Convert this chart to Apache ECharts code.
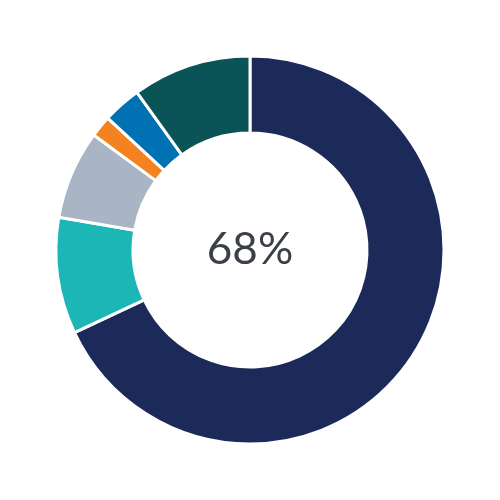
<!DOCTYPE html>
<html><head><meta charset="utf-8">
<script src="https://cdn.jsdelivr.net/npm/echarts@6/dist/echarts.min.js"></script>
<style>html,body{margin:0;padding:0;background:#fff}#c{width:500px;height:500px}</style>
</head><body><div id="c"></div>
<script>
var names = ['A', 'B', 'C', 'D', 'E', 'F'];
var values = [68, 9.7, 7.4, 1.8, 3.2, 9.9];
var colors = ['#1c2a5a', '#1db6b6', '#a9b4c4', '#f58220', '#0071b3', '#0a5356'];
var centerLabel = '68%';

var chart = echarts.init(document.getElementById('c'));
chart.setOption({
    animation: false,
    title: {
        text: centerLabel,
        left: 'center',
        top: 'middle',
        textStyle: { fontFamily: 'Lato', fontWeight: 'normal', fontSize: 44, color: '#3b3f48' }
    },
    series: [{
        type: 'pie',
        radius: [117, 194],
        center: [250, 250],
        startAngle: 90,
        clockwise: true,
        label: { show: false },
        labelLine: { show: false },
        itemStyle: { borderColor: '#fff', borderWidth: 3 },
        data: names.map(function (n, i) {
            return { name: n, value: values[i], itemStyle: { color: colors[i] } };
        })
    }]
});
</script></body></html>
